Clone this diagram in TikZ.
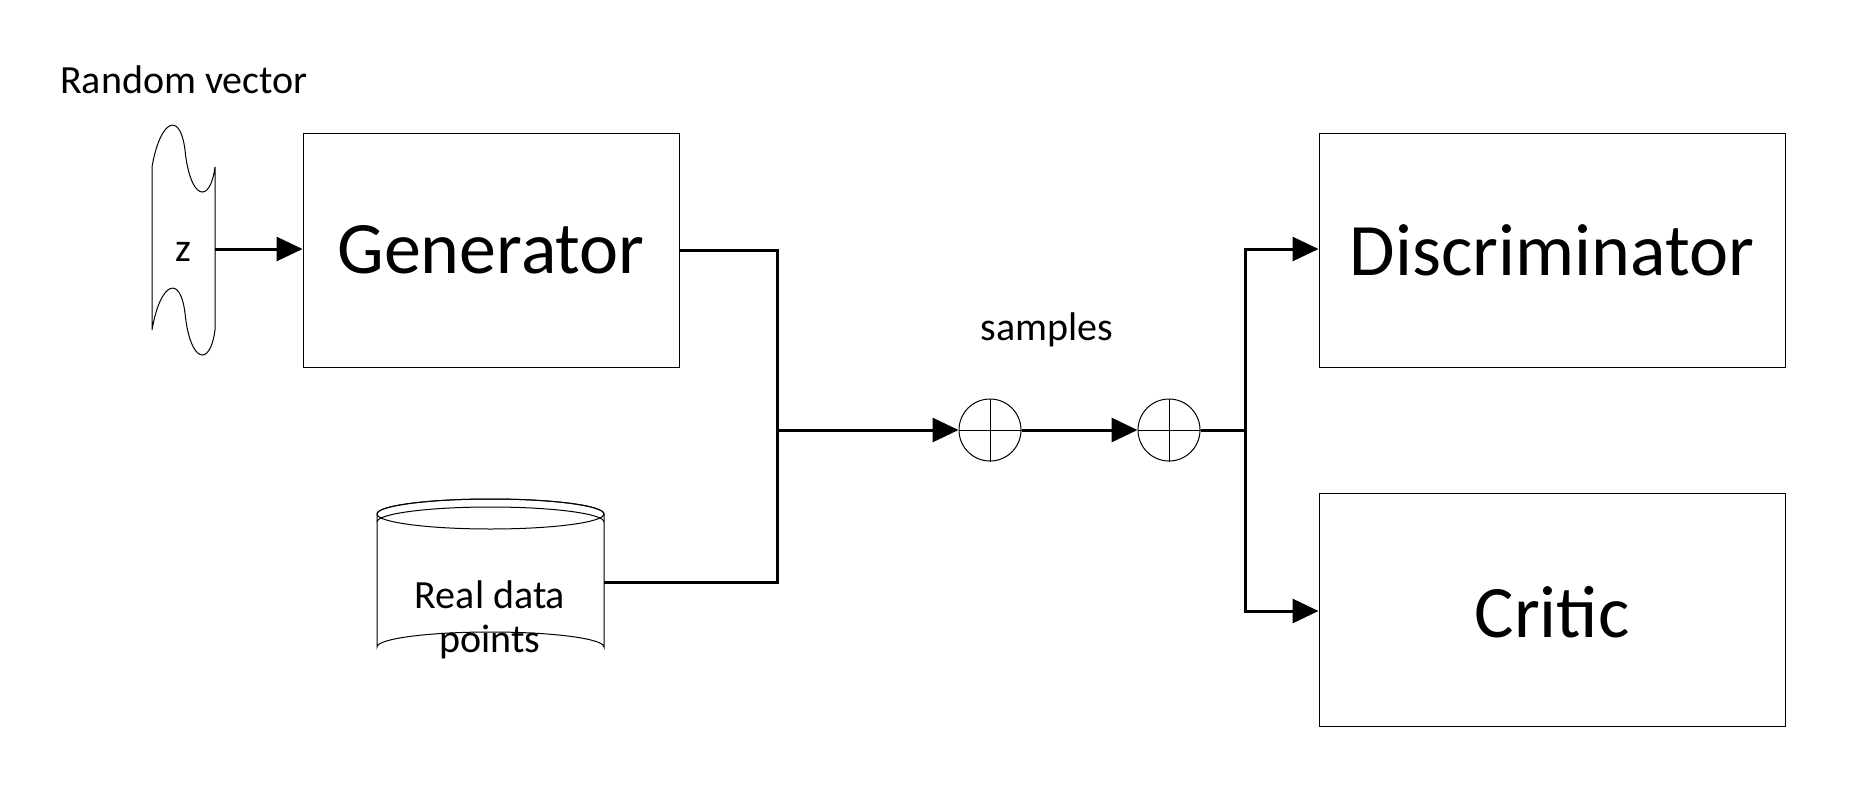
\documentclass[tikz,border=0pt]{standalone}
\usepackage{fontspec}
\setmainfont{Carlito}
\usetikzlibrary{arrows.meta}
\begin{document}
\begin{tikzpicture}[x=1pt,y=-1pt,
  box/.style={draw,line width=1pt,inner sep=0pt},
  conn/.style={line width=3pt},
  arr/.style={conn,-{Triangle[length=26pt,width=24pt]}},
  big/.style={font=\fontsize{74}{80}\selectfont},
  small/.style={font=\fontsize{40}{48}\selectfont}]
\useasboundingbox (0,0) rectangle (1852,806);
% random vector
\node[small] (rv) at (184,80) {Random vector};
\draw[line width=1pt] (152,167) .. controls (160,120) and (180,110) .. (185,150) .. controls (190,200) and (210,205) .. (215,167)
  -- (215,330) .. controls (210,368) and (190,363) .. (185,313) .. controls (180,273) and (160,283) .. (152,330) -- cycle;
\node[small] (z) at (183,252) {z};
\coordinate (zr) at (215,249);
\node[box,minimum width=376pt,minimum height=234pt] (gen) at (491,250) {};
\node[big] at (491,250) {Generator};
\draw[arr] (zr) -- (gen.west|-zr);
% cylinder
\node[minimum width=227pt,minimum height=164pt,inner sep=0pt] (db) at (490.5,580) {};
\draw[line width=1pt,fill=white] (377,514) -- (377,647) arc[start angle=180,end angle=360,x radius=113.5,y radius=15] -- (604,514);
\draw[line width=1pt] (490.5,514) ellipse[x radius=113.5,y radius=15];
\draw[line width=1pt] (377,514) arc[start angle=180,end angle=0,x radius=113.5,y radius=-15];
\draw[line width=1pt] (377,522) arc[start angle=180,end angle=360,x radius=113.5,y radius=15];
\node[small,align=center] at (490,620) {Real data\\[-4pt]points};
% junction
\node[circle,draw,line width=1pt,minimum size=62pt,inner sep=0pt] (c1) at (990,430) {};
\node[circle,draw,line width=1pt,minimum size=62pt,inner sep=0pt] (c2) at (1169,430) {};
\foreach \c in {c1,c2}{\draw[line width=0.6pt] (\c.north)--(\c.south) (\c.west)--(\c.east);}
\node[small] (samp) at (1047,330) {samples};
\coordinate (j1) at (777,430);
\draw[conn] (gen.east|-0,250) -| (j1);
\draw[conn] (db.east|-0,582) -| (j1);
\draw[arr] (j1) -- (c1.west);
\draw[arr] (c1.east) -- (c2.west);
\coordinate (j2) at (1245,430);
\draw[conn] (c2.east) -- (j2);
\node[box,minimum width=466pt,minimum height=234pt] (dis) at (1552,250) {};
\node[big] at (1552,250) {Discriminator};
\node[box,minimum width=466pt,minimum height=233pt] (cri) at (1552,609.5) {};
\node[big] at (1552,612) {Critic};
\draw[arr] (j2) |- (dis.west|-0,249);
\draw[arr] (j2) |- (cri.west|-0,611);
\end{tikzpicture}
\end{document}
